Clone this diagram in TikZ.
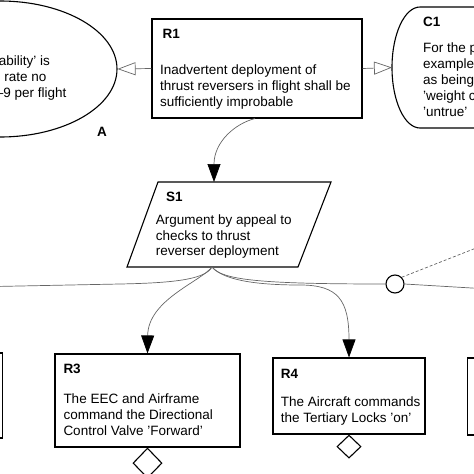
\documentclass[tikz,border=0pt]{standalone}
\usepackage{fontspec}
\setmainfont{Liberation Sans}
\usetikzlibrary{arrows.meta,shapes.geometric}
\begin{document}
\begin{tikzpicture}[x=1pt,y=-1pt,
  box/.style={draw=black, line width=1.1pt, rectangle, inner sep=0pt},
  ttl/.style={font=\fontsize{13.5}{16}\selectfont\bfseries, anchor=base west, inner sep=0pt},
  txt/.style={font=\fontsize{13.5}{16}\selectfont, anchor=north west, align=left, inner sep=0pt},
  conn/.style={draw=black!60, line width=0.7pt},
  solid arrow/.style={conn, -{Triangle[length=18pt,width=13pt,color=black]}},
  open arrow/.style={conn, -{Triangle[open,length=18pt,width=13pt]}},
  gate/.style={draw=black, line width=1.1pt, diamond, inner sep=0pt, anchor=north},
]
\useasboundingbox (0,0) rectangle (474,474);
\clip (0,0) rectangle (474,474);

% ellipse A (assumption)
\node[draw=black, line width=1.1pt, ellipse, minimum width=234, minimum height=136, inner sep=0pt] (A) at (0,69) {};
\node[txt, anchor=base east] (Aa) at (50,65) {ability' is};
\node[txt, anchor=base east] (Ab) at (46.7,81) {rate no};
\node[txt, anchor=base east] (Ac) at (66.7,97) {–9 per flight};
\node[ttl, anchor=base] (Aid) at (102,136) {A};

% R1
\node[box, minimum width=210, minimum height=99] (R1) at (257,68.5) {};
\node[ttl] (R1id) at (162.5,38) {R1};
\node[txt] (R1body) at (160,64.5) {Inadvertent deployment of\\thrust reversers in flight shall be\\sufficiently improbable};

% C1 context
\draw[line width=1.1pt] (500,7) -- (420,7) arc[start angle=270, end angle=90, x radius=28, y radius=60.5] -- (500,128);
\coordinate (C1) at (392,67.5);
\node[ttl] (C1id) at (423,26.5) {C1};
\node[txt] (C1body) at (423,43) {For the p\\example\\as being\\'weight c\\'untrue'};

\draw[open arrow] (R1.west) -- (A.east);
\draw[open arrow] (R1.east) -- (C1);

% S1 strategy
\draw[line width=1.1pt] (158,182) -- (331,182) -- (298,267) -- (127,267) -- cycle;
\coordinate (S1n) at (214,182);
\coordinate (S1s) at (212,267);
\node[ttl] (S1id) at (166,201.5) {S1};
\node[txt, font=\fontsize{13.5}{15.3}\selectfont] (S1body) at (155.7,215) {Argument by appeal to\\checks to thrust\\reverser deployment};

\draw[solid arrow] ([xshift=-2pt]R1.south) .. controls +(-20,5) and +(0,-40) .. (S1n);

% lower boxes
\node[box, minimum width=100, minimum height=85, anchor=east] (R2) at (3,395.5) {};
\node[box, minimum width=185, minimum height=93] (R3) at (147.5,400.5) {};
\node[ttl] (R3id) at (63.3,373) {R3};
\node[txt] (R3body) at (63.3,394) {The EEC and Airframe\\command the Directional\\Control Valve 'Forward'};
\node[box, minimum width=152, minimum height=76] (R4) at (349,396) {};
\node[ttl] (R4id) at (280.7,378) {R4};
\node[txt] (R4body) at (280.7,397) {The Aircraft commands\\the Tertiary Locks 'on'};
\node[box, minimum width=100, minimum height=77, anchor=west] (R5) at (467,396.5) {};

\node[gate, minimum width=29, minimum height=30] (D3) at (R3.south) {};
\node[gate, minimum width=24, minimum height=23] (D4) at (R4.south) {};

% junction
\node[draw=black, line width=1.1pt, circle, minimum size=18, inner sep=0pt] (J) at (395,284) {};
\coordinate (Lend) at (-5,286.5);
\coordinate (Rend) at (480,288.5);
\coordinate (Dend) at (480,246.5);

\draw[conn] (S1s) .. controls (205,280) and (170,283) .. (120,284) -- (Lend);
\draw[solid arrow] (S1s) .. controls (200,282) and (148,300) .. (R3.north);
\draw[conn] (S1s) .. controls (222,280) and (260,284) .. (J.west);
\draw[solid arrow] (S1s) .. controls (225,282) and (265,285) .. (300,285) .. controls (338,285) and (349,300) .. (R4.north);
\draw[conn] (J.east) -- (Rend);
\draw[conn, dash pattern=on 3pt off 2pt] (J.north east) -- (Dend);
\end{tikzpicture}
\end{document}
